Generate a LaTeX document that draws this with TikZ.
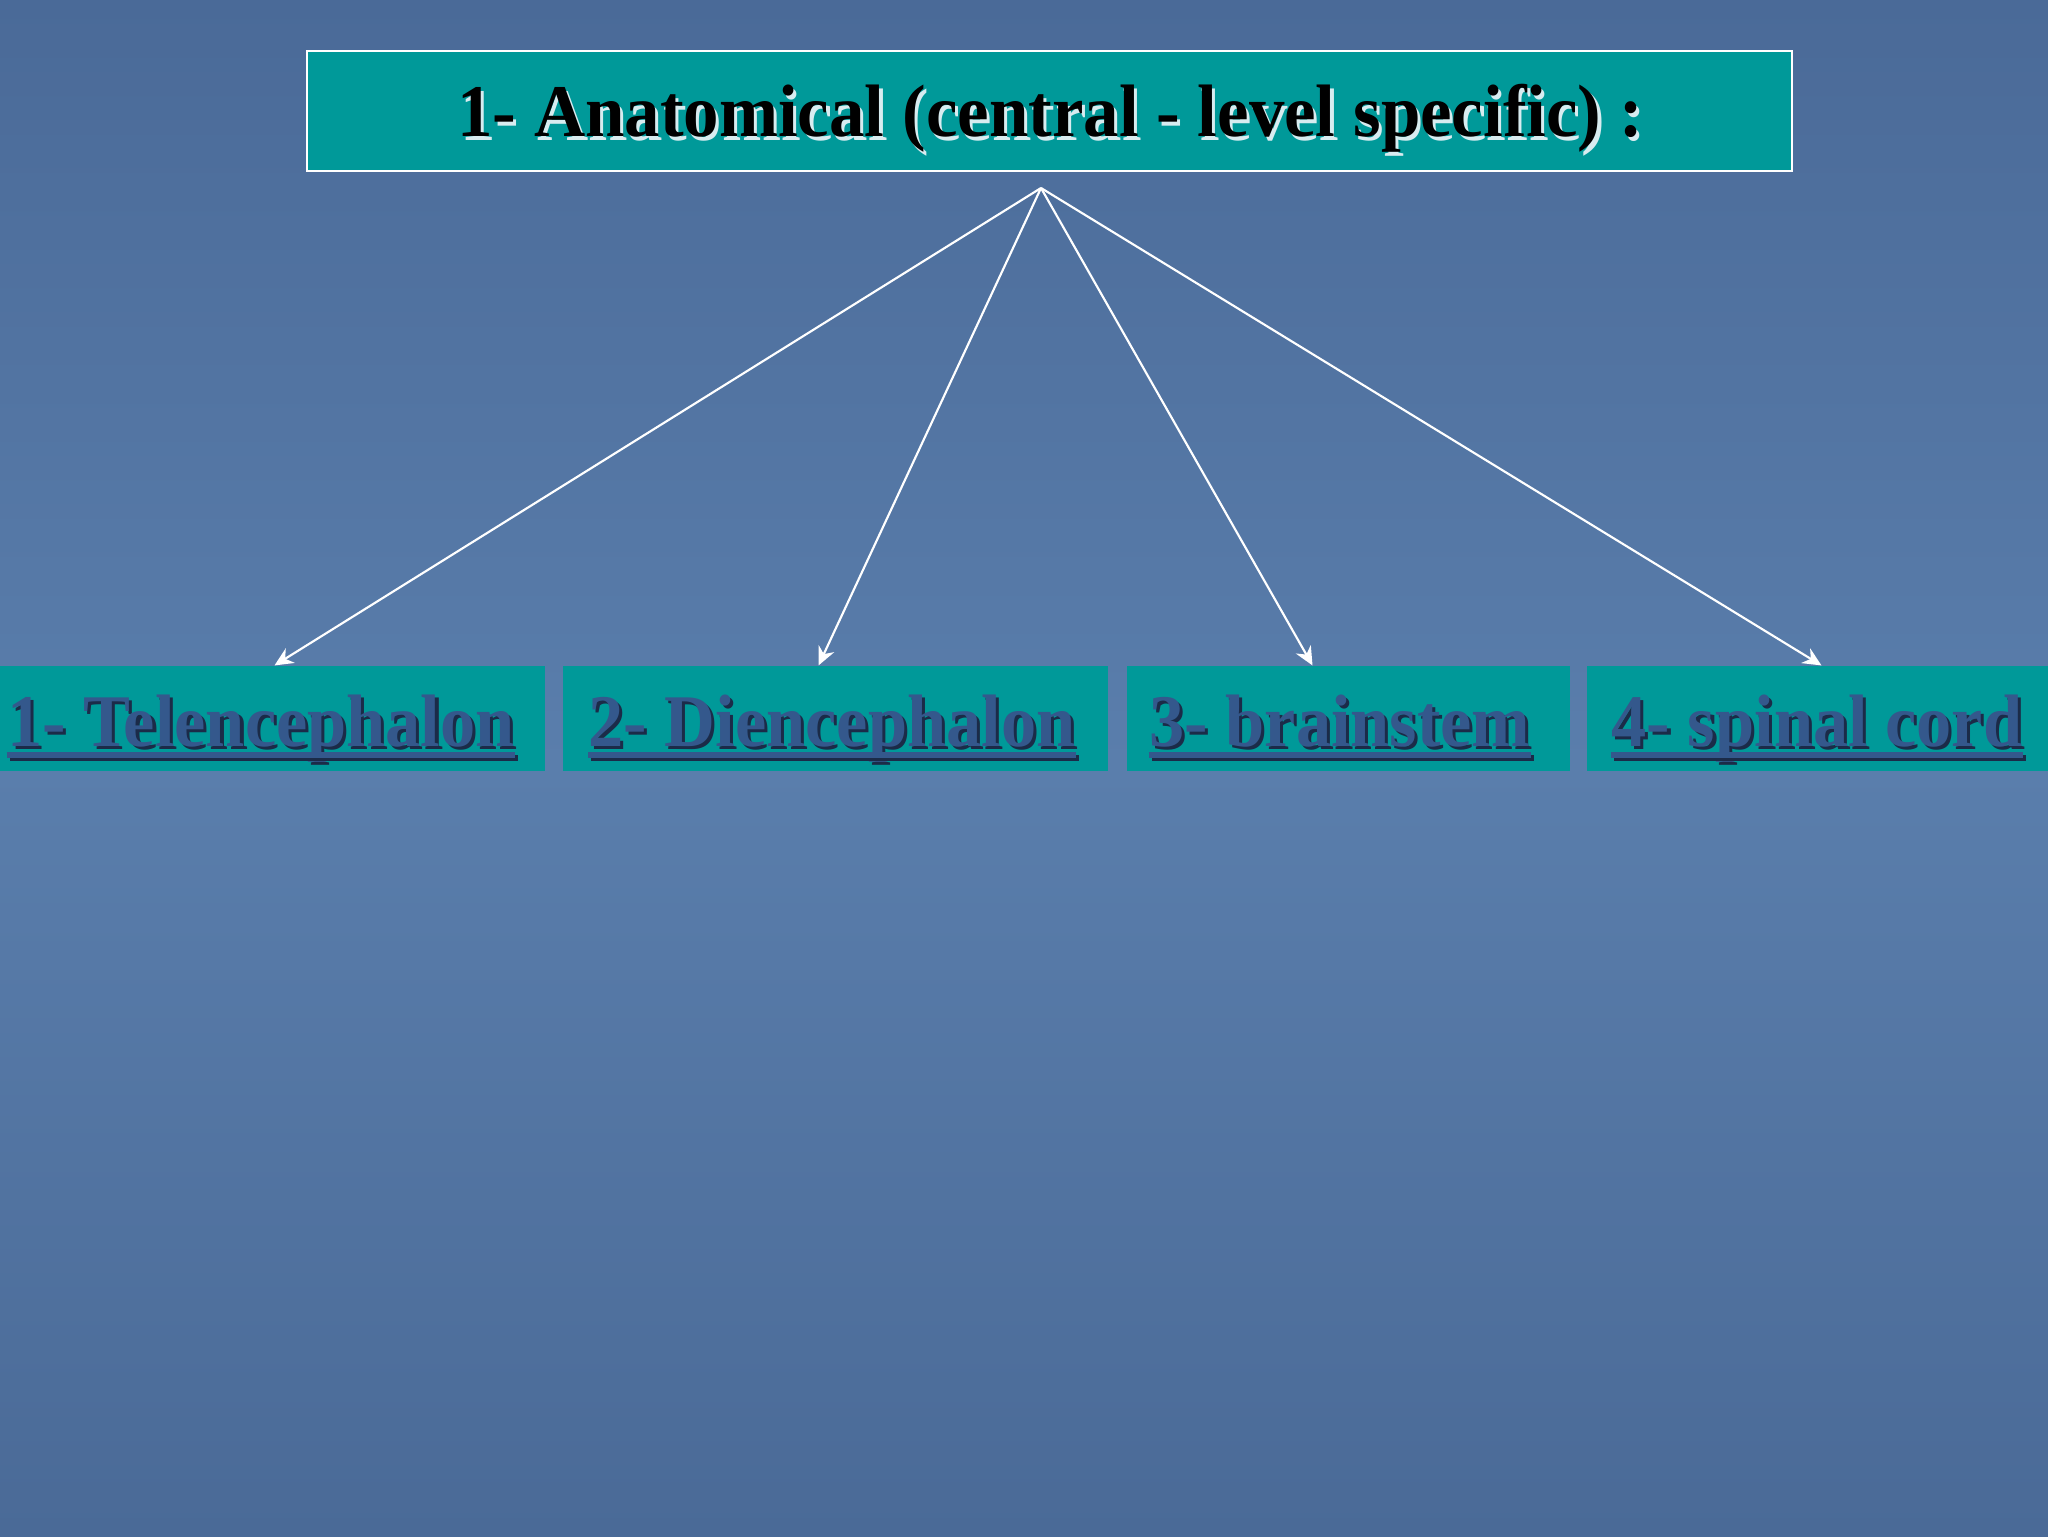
\documentclass[tikz,border=0pt]{standalone}
\usepackage{fontspec}
\setmainfont{Liberation Serif}
\usetikzlibrary{calc,arrows.meta}
\definecolor{bgtop}{HTML}{4A6A98}
\definecolor{bgmid}{HTML}{5A7EAC}
\definecolor{bgbot}{HTML}{4A6A97}
\definecolor{boxteal}{HTML}{009999}
\definecolor{labelblue}{HTML}{34588C}
\definecolor{labelshadow}{HTML}{1B2B48}
\definecolor{titleshadow}{HTML}{D8ECF0}
\newcommand{\shadowed}[3]{\leavevmode\rlap{\kern#2\raisebox{-#2}{\textcolor{#1}{#3}}}#3}
\begin{document}
\begin{tikzpicture}[x=0.35pt,y=-0.35pt,
  titlebox/.style={draw=white, line width=0.7pt, fill=boxteal, inner sep=0pt,
    minimum width=519.75pt, minimum height=42pt},
  subbox/.style={fill=boxteal, inner sep=0pt, minimum height=36.75pt},
  titletext/.style={inner sep=0pt, anchor=base, font=\fontsize{25}{30}\selectfont\bfseries, text=black},
  labeltext/.style={inner sep=0pt, anchor=base, font=\fontsize{25}{30}\selectfont\bfseries, text=labelblue},
  ul/.style={draw=labelblue, line width=2pt},
  ulshadow/.style={draw=labelshadow, line width=2pt},
  link/.style={draw=white, line width=0.75pt, -{Stealth[length=6.5pt,width=6pt]}}]
\useasboundingbox (0,0) rectangle (2048,1536);
\shade[top color=bgtop, bottom color=bgbot, middle color=bgmid] (0,0) rectangle (2048,1536);
\node[titlebox] (title) at (1049.5,111) {};
\node[titletext] (titlet) at (1050,137) {\scalebox{0.993}[1.04]{\shadowed{titleshadow}{1.1pt}{1- Anatomical (central - level specific) :}}};
\coordinate (apex) at (1041,188);
\node[subbox, minimum width=190.75pt] (b1) at (272.5,718.5) {};
\node[subbox, minimum width=190.75pt] (b2) at (835.5,718.5) {};
\node[subbox, minimum width=155.05pt] (b3) at (1348.5,718.5) {};
\node[subbox, minimum width=161.35pt] (b4) at (1817.5,718.5) {};
\node[labeltext] (t1) at (261,746) {\scalebox{0.985}[1.04]{\shadowed{labelshadow}{1.1pt}{1- Telencephalon}}};
\node[labeltext] (t2) at (832,746) {\scalebox{0.985}[1.04]{\shadowed{labelshadow}{1.1pt}{2- Diencephalon}}};
\node[labeltext] (t3) at (1340,746) {\scalebox{0.985}[1.04]{\shadowed{labelshadow}{1.1pt}{3- brainstem}}};
\node[labeltext] (t4) at (1817,746) {\scalebox{0.985}[1.04]{\shadowed{labelshadow}{1.1pt}{4- spinal cord}}};
\foreach \t in {t1,t2,t3,t4}{
  \draw[ulshadow] ($(\t.base west)+(3,12)$) -- ($(\t.base east)+(3,12)$);
  \draw[ul] ($(\t.base west)+(0,9)$) -- ($(\t.base east)+(0,9)$);
}
\draw[link] (apex) -- ($(b1.north)+(2,0)$);
\draw[link] (apex) -- ($(b2.north)+(-17,0)$);
\draw[link] (apex) -- ($(b3.north)+(-36,0)$);
\draw[link] (apex) -- ($(b4.north)+(4,0)$);
\end{tikzpicture}
\end{document}
